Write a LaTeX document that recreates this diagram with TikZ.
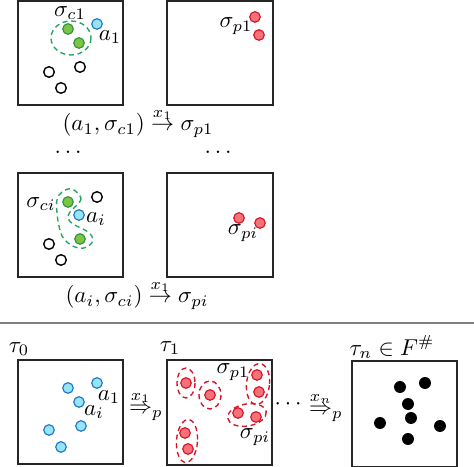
\documentclass[tikz,border=0pt]{standalone}
\usepackage{amsmath}
\definecolor{gfill}{RGB}{125,195,70}
\definecolor{gedge}{RGB}{45,150,60}
\definecolor{gdashc}{RGB}{40,165,100}
\definecolor{bfill}{RGB}{150,228,245}
\definecolor{bedge}{RGB}{30,120,200}
\definecolor{rfill}{RGB}{245,115,120}
\definecolor{redge}{RGB}{215,20,40}
\begin{document}
\begin{tikzpicture}[x=0.435pt,y=-0.435pt,
  panel/.style={draw=black!85,line width=0.9pt},
  dotbase/.style={circle,inner sep=0pt,minimum size=4.6pt,line width=0.5pt},
  hollow/.style={dotbase,draw=black,fill=white,line width=0.6pt},
  greendot/.style={dotbase,draw=gedge,fill=gfill},
  bluedot/.style={dotbase,draw=bedge,fill=bfill},
  reddot/.style={dotbase,draw=redge,fill=rfill},
  blackdot/.style={circle,inner sep=0pt,minimum size=5.2pt,fill=black},
  gdash/.style={draw=gdashc,line width=0.6pt,dash pattern=on 2.2pt off 1.6pt},
  rdash/.style={draw=redge,line width=0.6pt,dash pattern=on 2.2pt off 1.6pt},
  lbl/.style={inner sep=0pt}]
\useasboundingbox (0,0) rectangle (474,467);
% ---------- row 1 ----------
\draw[panel] (18,1) rectangle (123,105);
\draw[panel] (167,1) rectangle (273,105);
\draw[gdash] (71,38) ellipse (20 and 17);
\node[greendot] (g1) at (68,29) {};
\node[greendot] (g2) at (79,43) {};
\node[bluedot] (b1) at (97,24) {};
\node[hollow] (h1) at (49,72) {};
\node[hollow] (h2) at (80,67) {};
\node[hollow] (h3) at (61,88) {};
\node[lbl] (lc1) at (70,13) {$\sigma_{c1}$};
\node[lbl] (la1) at (110,37) {$a_1$};
\node[reddot] (r1) at (255,17) {};
\node[reddot] (r2) at (259,35) {};
\node[lbl] (lp1) at (236,26) {$\sigma_{p1}$};
\node[lbl] (f1) at (138,123) {$(a_1,\sigma_{c1})\stackrel{x_1}{\rightarrow}\sigma_{p1}$};
\node[lbl] (d1) at (70,152) {$\dots$};
\node[lbl] (d2) at (220,152) {$\dots$};
% ---------- row 2 ----------
\draw[panel] (18,173) rectangle (123,277);
\draw[panel] (167,173) rectangle (273,277);
\draw[gdash] plot[smooth cycle,tension=0.6] coordinates {(72,189) (81,198) (76,206) (70,212) (68,218) (73,224) (88,232) (93,240) (87,247) (78,248) (68,243) (62,236) (59,226) (57,213) (57,200) (62,192)};
\node[greendot] (g3) at (68,202) {};
\node[greendot] (g4) at (80,239) {};
\node[bluedot] (b2) at (79,215) {};
\node[hollow] (h4) at (97,197) {};
\node[hollow] (h5) at (49,244) {};
\node[hollow] (h6) at (61,260) {};
\node[lbl] (lci) at (41,204) {$\sigma_{ci}$};
\node[lbl] (lai) at (96,219) {$a_i$};
\node[reddot] (r3) at (239,218) {};
\node[reddot] (r4) at (260,223) {};
\node[lbl] (lpi) at (243,233) {$\sigma_{pi}$};
\node[lbl] (f2) at (137,295) {$(a_i,\sigma_{ci})\stackrel{x_1}{\rightarrow}\sigma_{pi}$};
% ---------- separator ----------
\coordinate (sepL) at (0,323);
\coordinate (sepR) at (474,323);
\draw[black!50,line width=0.5pt] (sepL) -- (sepR);
% ---------- row 3 ----------
\draw[panel] (18,360) rectangle (123,464);
\draw[panel] (167,360) rectangle (272,465);
\draw[panel] (352,361) rectangle (457,467);
\node[lbl] (t0) at (19,349) {$\tau_0$};
\node[lbl] (t1) at (170,348) {$\tau_1$};
\node[lbl] (tn) at (392,347) {$\tau_n\in F^{\#}$};
\node[bluedot] (c1) at (68,388) {};
\node[bluedot] (c2) at (97,383) {};
\node[bluedot] (c3) at (79,402) {};
\node[bluedot] (c4) at (81,426) {};
\node[bluedot] (c5) at (49,430) {};
\node[bluedot] (c6) at (61,447) {};
\node[lbl] (ba1) at (109,397) {$a_1$};
\node[lbl] (bai) at (94,412) {$a_i$};
\node[lbl] (ar1) at (146,406) {$\stackrel{x_1}{\Rightarrow}_p$};
% red groups
\draw[rdash] (186,383) ellipse (9 and 15);
\node[reddot] (e1) at (186,383) {};
\draw[rdash] (210,395) ellipse (11 and 14);
\node[reddot] (e2) at (210,395) {};
\draw[rdash,rotate around={-6:(258,384)}] (258,384) ellipse (11.5 and 20.5);
\node[reddot] (e3) at (257,375) {};
\node[reddot] (e4) at (259,392) {};
\draw[rdash,rotate around={10:(247,415)}] (247,415) ellipse (19.5 and 11);
\node[reddot] (e5) at (238,413) {};
\node[reddot] (e6) at (256,417) {};
\draw[rdash,rotate around={-4:(187,441)}] (187,441) ellipse (10.5 and 21.5);
\node[reddot] (e7) at (185,433) {};
\node[reddot] (e8) at (188,449) {};
\node[lbl] (bp1) at (233,372) {$\sigma_{p1}$};
\node[lbl] (bpi) at (255,437) {$\sigma_{pi}$};
\node[lbl] (cd) at (290,404) {$\cdots$};
\node[lbl] (ar2) at (326,407) {$\stackrel{x_n}{\Rightarrow}_p$};
% final
\node[blackdot] (k1) at (400,387) {};
\node[blackdot] (k2) at (425,383) {};
\node[blackdot] (k3) at (408,404) {};
\node[blackdot] (k4) at (411,418) {};
\node[blackdot] (k5) at (380,423) {};
\node[blackdot] (k6) at (440,426) {};
\node[blackdot] (k7) at (408,439) {};
\end{tikzpicture}
\end{document}
